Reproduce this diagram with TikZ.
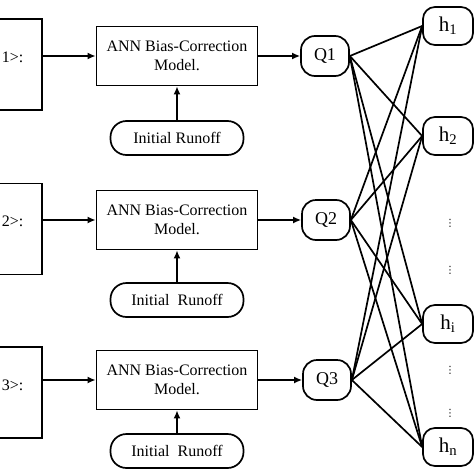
\documentclass[tikz,border=0pt]{standalone}
\usepackage{fontspec}
\setmainfont{Liberation Serif}
\newfontfamily\dotsfont{DejaVu Sans}
\usetikzlibrary{arrows.meta}

\begin{document}
\begin{tikzpicture}[x=1pt,y=-1pt,line width=1.7pt,>={Latex[length=8pt,width=7pt]}]
        \tikzstyle{every node}=[inner sep=1pt,font=\fontsize{16}{19}\selectfont]
        \tikzstyle{inbox}=[draw,minimum width=90pt,minimum height=91pt]
        \tikzstyle{annbox}=[draw,minimum width=161pt,minimum height=59pt,align=center]
        \tikzstyle{runoff}=[draw,rounded corners=16pt,minimum width=133pt,minimum height=34pt]
        \tikzstyle{qnode}=[draw,rounded corners=14pt,minimum width=48pt,minimum height=40pt,font=\fontsize{18}{19}\selectfont]
        \tikzstyle{hnode}=[draw,rounded corners=12pt,minimum width=50pt,minimum height=38pt,font=\fontsize{21}{22}\selectfont]
        \tikzstyle{vdots}=[font=\dotsfont\fontsize{10}{10}\selectfont]
        \useasboundingbox (0,0) rectangle (474,474);
        \clip (0,0) rectangle (474,474);
        % inputs on the left
        \node[inbox] (in1) at (-3,64.5) {};
        \node[inbox] (in2) at (-3,229) {};
        \node[inbox] (in3) at (-3,392.5) {};
        \node[anchor=west] (t1) at (0,57) {1>:};
        \node[anchor=west] (t2) at (0,221) {2>:};
        \node[anchor=west] (t3) at (0,385) {3>:};
        % correction models
        \node[annbox] (ann1) at (177,56) {ANN Bias-Correction\\Model.};
        \node[annbox] (ann2) at (177,220) {ANN Bias-Correction\\Model.};
        \node[annbox] (ann3) at (177,380) {ANN Bias-Correction\\Model.};
        \node[runoff] (run1) at (177,138) {Initial Runoff};
        \node[runoff] (run2) at (177,300) {Initial\ \ Runoff};
        \node[runoff] (run3) at (177,451) {Initial\ \ Runoff};
        \node[qnode] (q1) at (325,56) {Q1};
        \node[qnode] (q2) at (326,220) {Q2};
        \node[qnode] (q3) at (327,380) {Q3};
        % outputs
        \node[hnode] (h1) at (448,26) {h\textsubscript{1}};
        \node[hnode] (h2) at (448,136) {h\textsubscript{2}};
        \node[hnode] (hi) at (448,324) {h\textsubscript{i}};
        \node[hnode] (hn) at (448,447) {h\textsubscript{n}};
        \node[vdots] (d1) at (450,223) {⋮};
        \node[vdots] (d2) at (450,270) {⋮};
        \node[vdots] (d3) at (450,370) {⋮};
        \node[vdots] (d4) at (450,413) {⋮};
        \draw[->] (in1.east |- ann1.west) -- (ann1.west);
        \draw[->] (in2.east |- ann2.west) -- (ann2.west);
        \draw[->] (in3.east |- ann3.west) -- (ann3.west);
        \draw[->] (run1) -- (ann1);
        \draw[->] (run2) -- (ann2);
        \draw[->] (run3) -- (ann3);
        \draw[->] (ann1) -- (q1);
        \draw[->] (ann2) -- (q2);
        \draw[->] (ann3) -- (q3);
        \foreach \q in {q1,q2,q3} \foreach \h in {h1,h2,hi,hn} \draw (\q.east) -- (\h.west);
    \end{tikzpicture}
\end{document}
